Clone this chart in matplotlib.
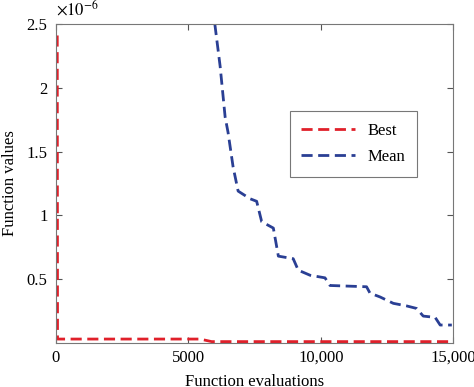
import matplotlib.pyplot as plt
from matplotlib.ticker import FuncFormatter

plt.rcParams['font.family'] = ['Liberation Serif', 'DejaVu Serif']
plt.rcParams['mathtext.fontset'] = 'stix'

# Best curve (function evaluations, values)
best_x = [50, 60, 150, 5440, 5880, 15000]
best_y = [2.41e-6, 0.03e-6, 0.03e-6, 0.03e-6, 0.01e-6, 0.01e-6]

# Mean curve
mean_x = [6000, 6200, 6390, 6500, 6690, 6880, 7330, 7580, 7770, 8210, 8400,
          8960, 9150, 9600, 10160, 10350, 11730, 11860, 12240, 12740, 13240,
          13620, 13870, 14320, 14510, 14950]
mean_y = [2.5e-6, 2.17e-6, 1.77e-6, 1.65e-6, 1.38e-6, 1.19e-6, 1.13e-6,
          1.11e-6, 0.95e-6, 0.90e-6, 0.68e-6, 0.66e-6, 0.57e-6, 0.53e-6,
          0.51e-6, 0.45e-6, 0.44e-6, 0.39e-6, 0.36e-6, 0.31e-6, 0.29e-6,
          0.27e-6, 0.21e-6, 0.20e-6, 0.14e-6, 0.14e-6]

fig = plt.figure(figsize=(4.74, 3.87), dpi=100)
ax = fig.add_axes([0.118, 0.114, 0.838, 0.824])

ax.plot(best_x, best_y, '--', color='#e0202a', lw=2, dashes=(4, 2), label='Best')
ax.plot(mean_x, mean_y, '--', color='#2a3f94', lw=2, dashes=(4, 2), label='Mean')

ax.set_xlim(0, 15000)
ax.set_ylim(0, 2.5e-6)
ax.set_xticks([0, 5000, 10000, 15000])
ax.xaxis.set_major_formatter(FuncFormatter(
    lambda v, p: f'{int(v)}' if v < 10000 else f'{int(v):,}'))
ax.set_yticks([0.5e-6, 1e-6, 1.5e-6, 2e-6, 2.5e-6])
ax.yaxis.set_major_formatter(FuncFormatter(lambda v, p: f'{v * 1e6:g}'))
ax.text(0.0, 1.015, r'$\times 10^{-6}$', transform=ax.transAxes,
        fontsize=12, ha='left', va='bottom')

ax.tick_params(direction='in', labelsize=12, top=True, right=True,
               color='#555555', length=4)
ax.tick_params(axis='y', pad=6)
ax.tick_params(axis='x', pad=5)
for s in ax.spines.values():
    s.set_color('#777777')

ax.set_xlabel('Function evaluations', fontsize=12, labelpad=6)
ax.set_ylabel('Function values', fontsize=12, labelpad=6)

leg = ax.legend(loc='center', bbox_to_anchor=(0.749, 0.624), fontsize=12,
                fancybox=False, edgecolor='#555555', handlelength=3.2,
                borderpad=0.7, labelspacing=0.6)
leg.get_frame().set_linewidth(0.8)

fig.savefig('out.png', dpi=100)
